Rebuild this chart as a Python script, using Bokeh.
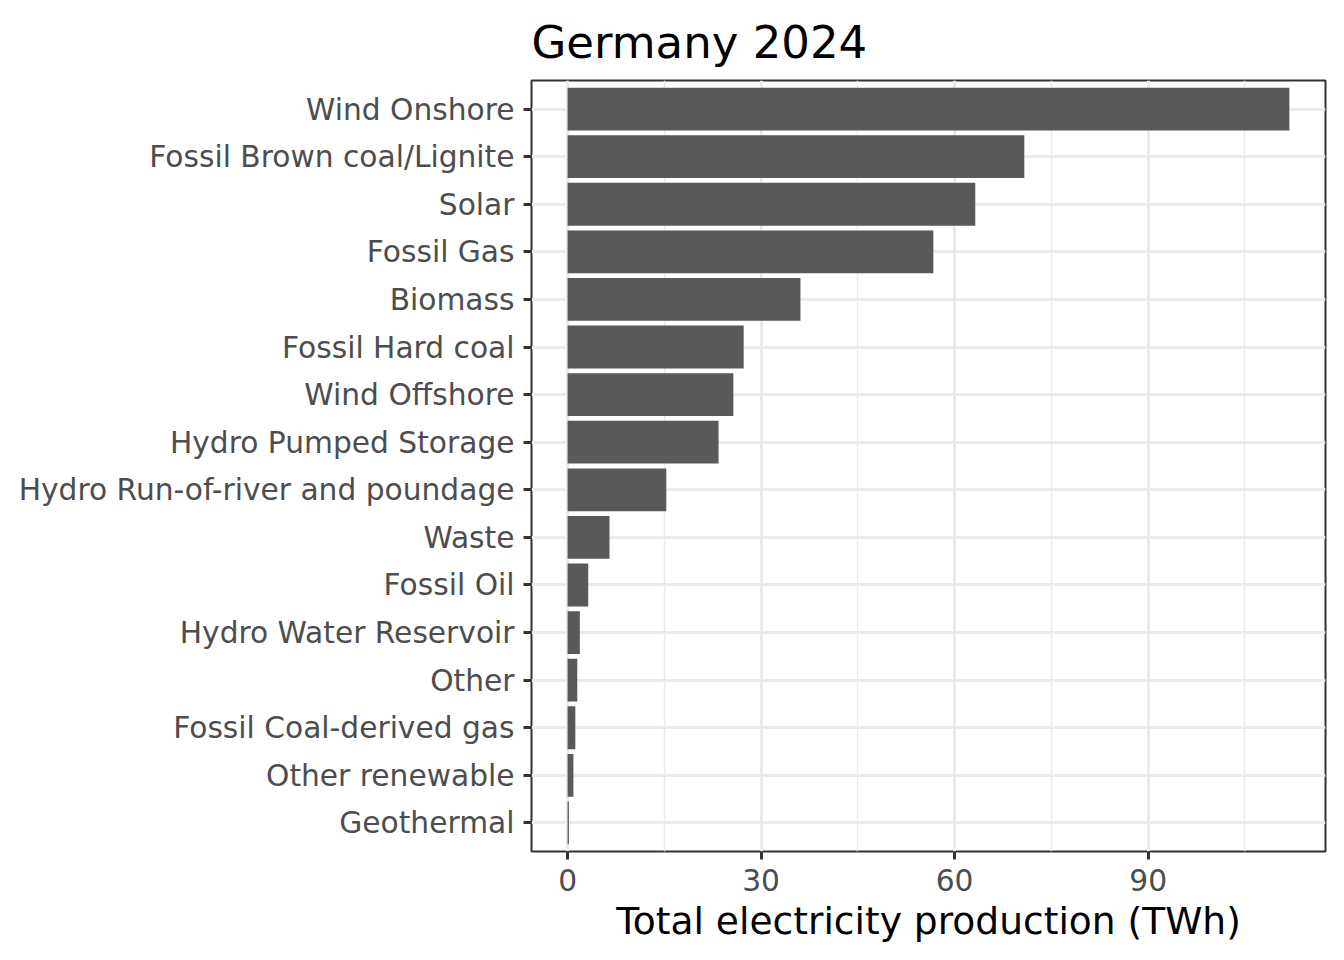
from bokeh.plotting import figure
from bokeh.models import ColumnDataSource, FactorRange, Range1d, FixedTicker
from bokeh.embed import file_html
from bokeh.resources import INLINE

categories = ["Wind Onshore", "Fossil Brown coal/Lignite", "Solar", "Fossil Gas",
              "Biomass", "Fossil Hard coal", "Wind Offshore", "Hydro Pumped Storage",
              "Hydro Run-of-river and poundage", "Waste", "Fossil Oil",
              "Hydro Water Reservoir", "Other", "Fossil Coal-derived gas",
              "Other renewable", "Geothermal"]
production_twh = [111.9, 70.8, 63.2, 56.7, 36.1, 27.3, 25.7, 23.4,
                  15.3, 6.5, 3.2, 1.9, 1.5, 1.2, 0.9, 0.2]
x_ticks = [0, 30, 60, 90]
x_minor_ticks = [15, 45, 75, 105]
title_text = "Germany 2024"
x_label = "Total electricity production (TWh)"

FONT = "DejaVu Sans"

src = ColumnDataSource(data=dict(cat=categories, val=production_twh))

vmax = max(production_twh)
y_range = FactorRange(factors=list(reversed(categories)),
                      range_padding=0.1, range_padding_units="absolute")
x_range = Range1d(-0.05 * vmax, 1.05 * vmax)

p = figure(width=1336, height=952, y_range=y_range, x_range=x_range,
           output_backend="svg", toolbar_location=None,
           min_border_left=531, min_border_right=11,
           min_border_top=80, min_border_bottom=101)

p.hbar(y="cat", right="val", left=0, height=0.9, source=src,
       fill_color="#595959", line_color=None)

# title
p.title.text = title_text
p.title.text_font = FONT
p.title.text_font_size = "45px"
p.title.text_font_style = "normal"
p.title.text_color = "black"
p.title.align = "left"
p.title.text_line_height = 1.0
p.title.standoff = 24

# frame
p.outline_line_color = "#333333"
p.outline_line_width = 2
p.background_fill_color = "white"
p.border_fill_color = "white"

# grids
p.xaxis.ticker = FixedTicker(ticks=x_ticks, minor_ticks=x_minor_ticks)
p.xgrid.grid_line_color = "#EBEBEB"
p.xgrid.grid_line_width = 3
p.xgrid.minor_grid_line_color = "#EBEBEB"
p.xgrid.minor_grid_line_width = 1.5
p.ygrid.grid_line_color = "#EBEBEB"
p.ygrid.grid_line_width = 3

for ax in (p.xaxis[0], p.yaxis[0]):
    ax.axis_line_color = None
    ax.major_tick_line_color = "#333333"
    ax.major_tick_line_width = 3
    ax.major_tick_out = 8
    ax.major_tick_in = 0
    ax.minor_tick_line_color = None
    ax.major_label_text_font = FONT
    ax.major_label_text_font_size = "29.7px"
    ax.major_label_text_color = "#4D4D4D"
    ax.major_label_standoff = 9

p.xaxis.axis_label = x_label
p.xaxis.axis_label_text_font = FONT
p.xaxis.axis_label_text_font_size = "37.6px"
p.xaxis.axis_label_text_font_style = "normal"
p.xaxis.axis_label_text_color = "black"
p.xaxis.axis_label_standoff = 5

open("out.html", "w").write(file_html(p, INLINE))
